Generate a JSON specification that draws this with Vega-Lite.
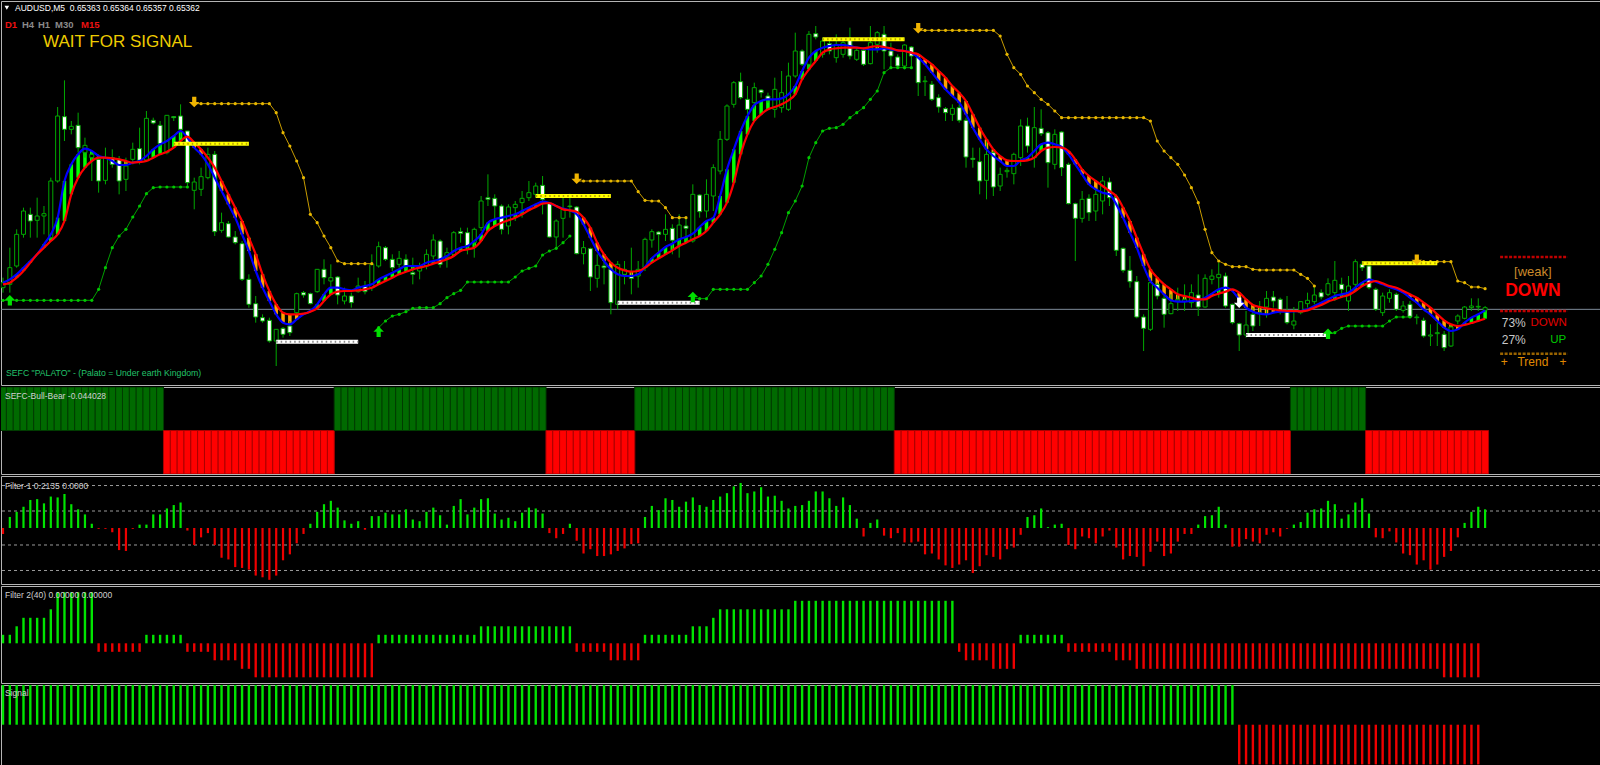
{
"$schema":"https://vega.github.io/schema/vega-lite/v6.json",
"background":"#000000",
"padding":0,
"spacing":2,
"bounds":"flush",
"config":{"view":{"stroke":"#b4b4b4","strokeWidth":1},"text":{"font":"Liberation Sans"}},
"datasets":{
"bars":[
{"i":0,"o":300,"h":330,"l":285,"c":315,"b":315,"r":310,"s":262,"sd":"S","lg":1,"bb":1,"f1":-0.07,"f2":1,"sg":1},
{"i":1,"o":310,"h":420,"l":285,"c":360,"b":325,"r":315,"s":262,"sd":"S","lg":1,"bb":1,"f1":0.13,"f2":1,"sg":1},
{"i":2,"o":365,"h":475,"l":360,"c":460,"b":340,"r":330,"s":262,"sd":"S","lg":1,"bb":1,"f1":0.19,"f2":2,"sg":1},
{"i":3,"o":460,"h":540,"l":450,"c":530,"b":360,"r":350,"s":262,"sd":"S","lg":1,"bb":1,"f1":0.25,"f2":3,"sg":1},
{"i":4,"o":520,"h":540,"l":450,"c":500,"b":380,"r":375,"s":262,"sd":"S","lg":1,"bb":1,"f1":0.33,"f2":3,"sg":1},
{"i":5,"o":502,"h":570,"l":450,"c":515,"b":400,"r":400,"s":262,"sd":"S","lg":1,"bb":1,"f1":0.34,"f2":3,"sg":1},
{"i":6,"o":515,"h":545,"l":460,"c":522,"b":430,"r":420,"s":262,"sd":"S","lg":1,"bb":1,"f1":0.29,"f2":3,"sg":1},
{"i":7,"o":450,"h":630,"l":445,"c":620,"b":460,"r":440,"s":262,"sd":"S","lg":1,"bb":1,"f1":0.37,"f2":4,"sg":1},
{"i":8,"o":620,"h":842,"l":615,"c":815,"b":510,"r":460,"s":262,"sd":"S","lg":1,"bb":1,"f1":0.36,"f2":6,"sg":1},
{"i":9,"o":813,"h":922,"l":740,"c":775,"b":620,"r":500,"s":262,"sd":"S","lg":1,"bb":1,"f1":0.40,"f2":6,"sg":1},
{"i":10,"o":775,"h":800,"l":760,"c":784,"b":670,"r":580,"s":262,"sd":"S","lg":1,"bb":1,"f1":0.28,"f2":6,"sg":1},
{"i":11,"o":787,"h":825,"l":705,"c":720,"b":700,"r":630,"s":262,"sd":"S","lg":1,"bb":1,"f1":0.22,"f2":6,"sg":1},
{"i":12,"o":705,"h":750,"l":690,"c":727,"b":717,"r":660,"s":262,"sd":"S","lg":1,"bb":1,"f1":0.16,"f2":6,"sg":1},
{"i":13,"o":690,"h":705,"l":620,"c":700,"b":710,"r":680,"s":262,"sd":"S","lg":1,"bb":1,"f1":0.05,"f2":6,"sg":1},
{"i":14,"o":685,"h":700,"l":585,"c":620,"b":695,"r":690,"s":295,"sd":"S","lg":1,"bb":1,"f1":-0.01,"f2":-1,"sg":1},
{"i":15,"o":622,"h":720,"l":610,"c":690,"b":690,"r":690,"s":360,"sd":"S","lg":1,"bb":1,"f1":-0.01,"f2":-1,"sg":1},
{"i":16,"o":690,"h":715,"l":660,"c":670,"b":680,"r":688,"s":420,"sd":"S","lg":1,"bb":1,"f1":-0.05,"f2":-1,"sg":1},
{"i":17,"o":685,"h":695,"l":580,"c":620,"b":668,"r":685,"s":455,"sd":"S","lg":1,"bb":1,"f1":-0.26,"f2":-1,"sg":1},
{"i":18,"o":625,"h":690,"l":590,"c":665,"b":668,"r":680,"s":475,"sd":"S","lg":1,"bb":1,"f1":-0.27,"f2":-1,"sg":1},
{"i":19,"o":685,"h":735,"l":670,"c":715,"b":675,"r":675,"s":512,"sd":"S","lg":1,"bb":1,"f1":-0.01,"f2":-1,"sg":1},
{"i":20,"o":717,"h":780,"l":670,"c":682,"b":680,"r":677,"s":545,"sd":"S","lg":1,"bb":1,"f1":0.04,"f2":-1,"sg":1},
{"i":21,"o":683,"h":830,"l":680,"c":808,"b":695,"r":680,"s":582,"sd":"S","lg":1,"bb":1,"f1":0.04,"f2":1,"sg":1},
{"i":22,"o":802,"h":810,"l":790,"c":794,"b":715,"r":690,"s":600,"sd":"S","lg":1,"bb":1,"f1":0.16,"f2":1,"sg":1},
{"i":23,"o":787,"h":800,"l":720,"c":732,"b":730,"r":700,"s":602,"sd":"S","lg":1,"bb":1,"f1":0.16,"f2":1,"sg":1},
{"i":24,"o":705,"h":817,"l":700,"c":817,"b":740,"r":708,"s":602,"sd":"S","lg":1,"bb":-1,"f1":0.23,"f2":1,"sg":1},
{"i":25,"o":813,"h":815,"l":800,"c":810,"b":755,"r":720,"s":602,"sd":"S","lg":1,"bb":-1,"f1":0.27,"f2":1,"sg":1},
{"i":26,"o":815,"h":850,"l":750,"c":775,"b":770,"r":740,"s":602,"sd":"S","lg":1,"bb":-1,"f1":0.30,"f2":1,"sg":1},
{"i":27,"o":770,"h":770,"l":600,"c":615,"b":750,"r":753,"s":602,"sd":"S","lg":1,"bb":-1,"f1":-0.03,"f2":-1,"sg":1},
{"i":28,"o":592,"h":630,"l":535,"c":617,"b":720,"r":735,"s":852,"sd":"R","lg":2,"bb":-1,"f1":-0.20,"f2":-1,"sg":1},
{"i":29,"o":595,"h":660,"l":575,"c":633,"b":700,"r":715,"s":852,"sd":"R","lg":2,"bb":-1,"f1":-0.11,"f2":-1,"sg":1},
{"i":30,"o":630,"h":720,"l":625,"c":700,"b":670,"r":690,"s":852,"sd":"R","lg":2,"bb":-1,"f1":-0.06,"f2":-1,"sg":1},
{"i":31,"o":700,"h":710,"l":455,"c":468,"b":630,"r":660,"s":852,"sd":"R","lg":2,"bb":-1,"f1":-0.20,"f2":-2,"sg":1},
{"i":32,"o":472,"h":525,"l":465,"c":495,"b":590,"r":620,"s":852,"sd":"R","lg":2,"bb":-1,"f1":-0.35,"f2":-2,"sg":1},
{"i":33,"o":492,"h":500,"l":450,"c":452,"b":550,"r":580,"s":852,"sd":"R","lg":2,"bb":-1,"f1":-0.37,"f2":-2,"sg":1},
{"i":34,"o":452,"h":470,"l":430,"c":435,"b":510,"r":540,"s":852,"sd":"R","lg":2,"bb":-1,"f1":-0.46,"f2":-2,"sg":1},
{"i":35,"o":432,"h":440,"l":320,"c":325,"b":460,"r":500,"s":852,"sd":"R","lg":2,"bb":-1,"f1":-0.47,"f2":-3,"sg":1},
{"i":36,"o":325,"h":340,"l":240,"c":250,"b":410,"r":450,"s":852,"sd":"R","lg":2,"bb":-1,"f1":-0.49,"f2":-3,"sg":1},
{"i":37,"o":252,"h":275,"l":195,"c":212,"b":350,"r":400,"s":852,"sd":"R","lg":2,"bb":-1,"f1":-0.56,"f2":-4,"sg":1},
{"i":38,"o":210,"h":220,"l":195,"c":200,"b":300,"r":340,"s":852,"sd":"R","lg":2,"bb":-1,"f1":-0.58,"f2":-4,"sg":1},
{"i":39,"o":202,"h":210,"l":135,"c":140,"b":260,"r":290,"s":852,"sd":"R","lg":2,"bb":-1,"f1":-0.61,"f2":-4,"sg":1},
{"i":40,"o":140,"h":175,"l":65,"c":175,"b":220,"r":250,"s":825,"sd":"R","lg":2,"bb":-1,"f1":-0.56,"f2":-4,"sg":1},
{"i":41,"o":178,"h":182,"l":150,"c":160,"b":195,"r":225,"s":765,"sd":"R","lg":2,"bb":-1,"f1":-0.38,"f2":-4,"sg":1},
{"i":42,"o":185,"h":200,"l":155,"c":165,"b":190,"r":220,"s":725,"sd":"R","lg":2,"bb":-1,"f1":-0.31,"f2":-4,"sg":1},
{"i":43,"o":225,"h":285,"l":220,"c":282,"b":205,"r":220,"s":680,"sd":"R","lg":2,"bb":-1,"f1":-0.18,"f2":-4,"sg":1},
{"i":44,"o":285,"h":290,"l":270,"c":278,"b":220,"r":222,"s":630,"sd":"R","lg":2,"bb":-1,"f1":-0.07,"f2":-4,"sg":1},
{"i":45,"o":282,"h":285,"l":250,"c":252,"b":230,"r":228,"s":520,"sd":"R","lg":2,"bb":-1,"f1":0.05,"f2":-4,"sg":1},
{"i":46,"o":288,"h":355,"l":285,"c":355,"b":250,"r":238,"s":495,"sd":"R","lg":2,"bb":-1,"f1":0.19,"f2":-4,"sg":1},
{"i":47,"o":355,"h":385,"l":310,"c":330,"b":280,"r":260,"s":455,"sd":"R","lg":2,"bb":-1,"f1":0.28,"f2":-4,"sg":1},
{"i":48,"o":320,"h":370,"l":300,"c":330,"b":300,"r":280,"s":420,"sd":"R","lg":2,"bb":-1,"f1":0.32,"f2":-4,"sg":1},
{"i":49,"o":332,"h":335,"l":250,"c":278,"b":300,"r":288,"s":380,"sd":"R","lg":2,"bb":1,"f1":0.24,"f2":-4,"sg":1},
{"i":50,"o":260,"h":300,"l":250,"c":275,"b":295,"r":290,"s":372,"sd":"R","lg":2,"bb":1,"f1":0.09,"f2":-4,"sg":1},
{"i":51,"o":275,"h":285,"l":240,"c":255,"b":292,"r":290,"s":372,"sd":"R","lg":2,"bb":1,"f1":0.05,"f2":-4,"sg":1},
{"i":52,"o":288,"h":330,"l":285,"c":305,"b":300,"r":292,"s":372,"sd":"R","lg":2,"bb":1,"f1":0.08,"f2":-4,"sg":1},
{"i":53,"o":305,"h":320,"l":280,"c":288,"b":305,"r":295,"s":372,"sd":"R","lg":2,"bb":1,"f1":-0.02,"f2":-4,"sg":1},
{"i":54,"o":300,"h":400,"l":290,"c":370,"b":310,"r":300,"s":372,"sd":"R","lg":2,"bb":1,"f1":0.14,"f2":-4,"sg":1},
{"i":55,"o":365,"h":438,"l":360,"c":423,"b":325,"r":310,"s":180,"sd":"S","lg":3,"bb":1,"f1":0.14,"f2":1,"sg":1},
{"i":56,"o":420,"h":425,"l":380,"c":385,"b":335,"r":320,"s":200,"sd":"S","lg":3,"bb":1,"f1":0.18,"f2":1,"sg":1},
{"i":57,"o":385,"h":400,"l":350,"c":360,"b":345,"r":330,"s":215,"sd":"S","lg":3,"bb":1,"f1":0.16,"f2":1,"sg":1},
{"i":58,"o":370,"h":410,"l":360,"c":388,"b":355,"r":340,"s":220,"sd":"S","lg":3,"bb":1,"f1":0.16,"f2":1,"sg":1},
{"i":59,"o":385,"h":400,"l":355,"c":365,"b":365,"r":348,"s":228,"sd":"S","lg":3,"bb":1,"f1":0.22,"f2":1,"sg":1},
{"i":60,"o":345,"h":390,"l":310,"c":340,"b":365,"r":355,"s":238,"sd":"S","lg":3,"bb":1,"f1":0.10,"f2":1,"sg":1},
{"i":61,"o":350,"h":375,"l":325,"c":360,"b":365,"r":360,"s":240,"sd":"S","lg":3,"bb":1,"f1":0.08,"f2":1,"sg":1},
{"i":62,"o":365,"h":415,"l":355,"c":400,"b":375,"r":365,"s":240,"sd":"S","lg":3,"bb":1,"f1":0.19,"f2":1,"sg":1},
{"i":63,"o":395,"h":460,"l":385,"c":443,"b":380,"r":372,"s":240,"sd":"S","lg":3,"bb":1,"f1":0.24,"f2":1,"sg":1},
{"i":64,"o":440,"h":445,"l":360,"c":370,"b":385,"r":378,"s":252,"sd":"S","lg":3,"bb":1,"f1":0.15,"f2":1,"sg":1},
{"i":65,"o":390,"h":420,"l":360,"c":405,"b":395,"r":385,"s":270,"sd":"S","lg":3,"bb":1,"f1":0.04,"f2":1,"sg":1},
{"i":66,"o":400,"h":470,"l":395,"c":465,"b":410,"r":395,"s":282,"sd":"S","lg":3,"bb":1,"f1":0.26,"f2":1,"sg":1},
{"i":67,"o":468,"h":480,"l":435,"c":463,"b":420,"r":410,"s":292,"sd":"S","lg":3,"bb":1,"f1":0.34,"f2":1,"sg":1},
{"i":68,"o":465,"h":480,"l":400,"c":425,"b":425,"r":415,"s":317,"sd":"S","lg":3,"bb":1,"f1":0.16,"f2":1,"sg":1},
{"i":69,"o":435,"h":480,"l":390,"c":475,"b":440,"r":420,"s":317,"sd":"S","lg":3,"bb":1,"f1":0.24,"f2":1,"sg":1},
{"i":70,"o":480,"h":575,"l":470,"c":560,"b":460,"r":440,"s":317,"sd":"S","lg":3,"bb":1,"f1":0.34,"f2":2,"sg":1},
{"i":71,"o":570,"h":640,"l":545,"c":565,"b":495,"r":470,"s":317,"sd":"S","lg":3,"bb":1,"f1":0.35,"f2":2,"sg":1},
{"i":72,"o":568,"h":580,"l":505,"c":545,"b":505,"r":485,"s":317,"sd":"S","lg":3,"bb":1,"f1":0.17,"f2":2,"sg":1},
{"i":73,"o":545,"h":550,"l":460,"c":475,"b":510,"r":495,"s":317,"sd":"S","lg":3,"bb":1,"f1":0.10,"f2":2,"sg":1},
{"i":74,"o":485,"h":550,"l":460,"c":542,"b":515,"r":502,"s":317,"sd":"S","lg":3,"bb":1,"f1":0.12,"f2":2,"sg":1},
{"i":75,"o":540,"h":560,"l":500,"c":550,"b":520,"r":510,"s":332,"sd":"S","lg":3,"bb":1,"f1":0.08,"f2":2,"sg":1},
{"i":76,"o":555,"h":590,"l":510,"c":568,"b":530,"r":520,"s":350,"sd":"S","lg":3,"bb":1,"f1":0.18,"f2":2,"sg":1},
{"i":77,"o":570,"h":620,"l":560,"c":585,"b":540,"r":532,"s":358,"sd":"S","lg":3,"bb":1,"f1":0.24,"f2":2,"sg":1},
{"i":78,"o":580,"h":615,"l":570,"c":605,"b":550,"r":542,"s":365,"sd":"S","lg":3,"bb":1,"f1":0.23,"f2":2,"sg":1},
{"i":79,"o":607,"h":635,"l":520,"c":565,"b":558,"r":552,"s":398,"sd":"S","lg":3,"bb":1,"f1":0.17,"f2":2,"sg":1},
{"i":80,"o":552,"h":555,"l":450,"c":452,"b":554,"r":554,"s":410,"sd":"S","lg":3,"bb":-1,"f1":-0.06,"f2":2,"sg":1},
{"i":81,"o":452,"h":505,"l":420,"c":500,"b":545,"r":545,"s":418,"sd":"S","lg":3,"bb":-1,"f1":-0.12,"f2":2,"sg":1},
{"i":82,"o":508,"h":575,"l":450,"c":535,"b":537,"r":535,"s":435,"sd":"S","lg":3,"bb":-1,"f1":-0.07,"f2":2,"sg":1},
{"i":83,"o":545,"h":582,"l":510,"c":543,"b":532,"r":532,"s":455,"sd":"S","lg":3,"bb":-1,"f1":0.05,"f2":2,"sg":1},
{"i":84,"o":542,"h":545,"l":400,"c":402,"b":520,"r":528,"s":620,"sd":"R","lg":4,"bb":-1,"f1":-0.15,"f2":-1,"sg":1},
{"i":85,"o":402,"h":440,"l":370,"c":420,"b":490,"r":510,"s":620,"sd":"R","lg":4,"bb":-1,"f1":-0.30,"f2":-1,"sg":1},
{"i":86,"o":417,"h":420,"l":290,"c":332,"b":450,"r":480,"s":620,"sd":"R","lg":4,"bb":-1,"f1":-0.25,"f2":-1,"sg":1},
{"i":87,"o":328,"h":400,"l":300,"c":367,"b":410,"r":435,"s":620,"sd":"R","lg":4,"bb":-1,"f1":-0.33,"f2":-1,"sg":1},
{"i":88,"o":365,"h":390,"l":310,"c":360,"b":380,"r":400,"s":620,"sd":"R","lg":4,"bb":-1,"f1":-0.33,"f2":-1,"sg":1},
{"i":89,"o":355,"h":360,"l":220,"c":255,"b":355,"r":375,"s":620,"sd":"R","lg":4,"bb":-1,"f1":-0.31,"f2":-2,"sg":1},
{"i":90,"o":250,"h":380,"l":235,"c":370,"b":340,"r":360,"s":620,"sd":"R","lg":4,"bb":-1,"f1":-0.27,"f2":-2,"sg":1},
{"i":91,"o":340,"h":380,"l":310,"c":355,"b":335,"r":352,"s":620,"sd":"R","lg":4,"bb":-1,"f1":-0.24,"f2":-2,"sg":1},
{"i":92,"o":335,"h":420,"l":280,"c":328,"b":335,"r":348,"s":620,"sd":"R","lg":4,"bb":-1,"f1":-0.19,"f2":-2,"sg":1},
{"i":93,"o":335,"h":380,"l":300,"c":355,"b":340,"r":350,"s":588,"sd":"R","lg":4,"bb":1,"f1":-0.18,"f2":-2,"sg":1},
{"i":94,"o":360,"h":450,"l":350,"c":445,"b":362,"r":360,"s":562,"sd":"R","lg":4,"bb":1,"f1":0.13,"f2":1,"sg":1},
{"i":95,"o":443,"h":475,"l":420,"c":468,"b":388,"r":375,"s":560,"sd":"R","lg":4,"bb":1,"f1":0.26,"f2":1,"sg":1},
{"i":96,"o":467,"h":470,"l":400,"c":460,"b":405,"r":388,"s":560,"sd":"R","lg":4,"bb":1,"f1":0.21,"f2":1,"sg":1},
{"i":97,"o":460,"h":520,"l":440,"c":475,"b":422,"r":400,"s":540,"sd":"R","lg":4,"bb":1,"f1":0.35,"f2":1,"sg":1},
{"i":98,"o":478,"h":490,"l":400,"c":442,"b":432,"r":412,"s":510,"sd":"R","lg":4,"bb":1,"f1":0.33,"f2":1,"sg":1},
{"i":99,"o":445,"h":520,"l":390,"c":488,"b":445,"r":425,"s":510,"sd":"R","lg":4,"bb":1,"f1":0.25,"f2":1,"sg":1},
{"i":100,"o":485,"h":510,"l":440,"c":478,"b":452,"r":435,"s":510,"sd":"R","lg":4,"bb":1,"f1":0.31,"f2":1,"sg":1},
{"i":101,"o":440,"h":610,"l":435,"c":580,"b":462,"r":445,"s":270,"sd":"S","lg":5,"bb":1,"f1":0.36,"f2":2,"sg":1},
{"i":102,"o":578,"h":580,"l":510,"c":528,"b":482,"r":455,"s":267,"sd":"S","lg":5,"bb":1,"f1":0.27,"f2":2,"sg":1},
{"i":103,"o":530,"h":625,"l":510,"c":580,"b":500,"r":470,"s":267,"sd":"S","lg":5,"bb":1,"f1":0.25,"f2":2,"sg":1},
{"i":104,"o":575,"h":670,"l":530,"c":660,"b":510,"r":495,"s":295,"sd":"S","lg":5,"bb":1,"f1":0.33,"f2":3,"sg":1},
{"i":105,"o":650,"h":770,"l":640,"c":745,"b":575,"r":520,"s":295,"sd":"S","lg":5,"bb":1,"f1":0.37,"f2":4,"sg":1},
{"i":106,"o":745,"h":850,"l":740,"c":845,"b":655,"r":555,"s":295,"sd":"S","lg":5,"bb":1,"f1":0.41,"f2":4,"sg":1},
{"i":107,"o":850,"h":920,"l":840,"c":915,"b":715,"r":615,"s":295,"sd":"S","lg":5,"bb":1,"f1":0.49,"f2":4,"sg":1},
{"i":108,"o":918,"h":945,"l":865,"c":870,"b":770,"r":700,"s":295,"sd":"S","lg":5,"bb":1,"f1":0.53,"f2":4,"sg":1},
{"i":109,"o":865,"h":905,"l":820,"c":835,"b":815,"r":760,"s":295,"sd":"S","lg":5,"bb":1,"f1":0.41,"f2":4,"sg":1},
{"i":110,"o":855,"h":915,"l":835,"c":900,"b":848,"r":800,"s":315,"sd":"S","lg":5,"bb":1,"f1":0.43,"f2":4,"sg":1},
{"i":111,"o":893,"h":895,"l":870,"c":885,"b":860,"r":820,"s":335,"sd":"S","lg":5,"bb":1,"f1":0.48,"f2":4,"sg":1},
{"i":112,"o":875,"h":885,"l":855,"c":865,"b":865,"r":835,"s":370,"sd":"S","lg":5,"bb":1,"f1":0.37,"f2":4,"sg":1},
{"i":113,"o":835,"h":930,"l":810,"c":895,"b":865,"r":842,"s":415,"sd":"S","lg":5,"bb":1,"f1":0.38,"f2":4,"sg":1},
{"i":114,"o":840,"h":950,"l":825,"c":885,"b":868,"r":850,"s":465,"sd":"S","lg":5,"bb":1,"f1":0.32,"f2":4,"sg":1},
{"i":115,"o":835,"h":975,"l":830,"c":935,"b":880,"r":862,"s":525,"sd":"S","lg":5,"bb":1,"f1":0.23,"f2":4,"sg":1},
{"i":116,"o":935,"h":1065,"l":930,"c":1010,"b":905,"r":880,"s":560,"sd":"S","lg":5,"bb":1,"f1":0.26,"f2":5,"sg":1},
{"i":117,"o":1010,"h":1015,"l":965,"c":970,"b":950,"r":925,"s":605,"sd":"S","lg":5,"bb":1,"f1":0.27,"f2":5,"sg":1},
{"i":118,"o":970,"h":1070,"l":960,"c":1060,"b":990,"r":955,"s":690,"sd":"S","lg":5,"bb":1,"f1":0.32,"f2":5,"sg":1},
{"i":119,"o":1062,"h":1085,"l":1045,"c":1052,"b":1010,"r":980,"s":735,"sd":"S","lg":5,"bb":1,"f1":0.43,"f2":5,"sg":1},
{"i":120,"o":1000,"h":1050,"l":990,"c":1040,"b":1020,"r":1005,"s":770,"sd":"S","lg":5,"bb":1,"f1":0.43,"f2":5,"sg":1},
{"i":121,"o":1032,"h":1045,"l":1000,"c":1010,"b":1025,"r":1015,"s":778,"sd":"S","lg":5,"bb":1,"f1":0.35,"f2":5,"sg":1},
{"i":122,"o":990,"h":1060,"l":975,"c":1030,"b":1028,"r":1018,"s":780,"sd":"S","lg":5,"bb":1,"f1":0.26,"f2":5,"sg":1},
{"i":123,"o":1000,"h":1050,"l":990,"c":1035,"b":1028,"r":1020,"s":790,"sd":"S","lg":5,"bb":1,"f1":0.36,"f2":5,"sg":1},
{"i":124,"o":1045,"h":1080,"l":985,"c":995,"b":1025,"r":1020,"s":810,"sd":"S","lg":5,"bb":1,"f1":0.27,"f2":5,"sg":1},
{"i":125,"o":985,"h":1020,"l":980,"c":1012,"b":1020,"r":1020,"s":825,"sd":"S","lg":5,"bb":1,"f1":0.11,"f2":5,"sg":1},
{"i":126,"o":1012,"h":1015,"l":965,"c":970,"b":1018,"r":1018,"s":840,"sd":"S","lg":5,"bb":1,"f1":-0.10,"f2":5,"sg":1},
{"i":127,"o":972,"h":1085,"l":970,"c":1035,"b":1015,"r":1022,"s":865,"sd":"S","lg":5,"bb":1,"f1":0.06,"f2":5,"sg":1},
{"i":128,"o":1030,"h":1070,"l":1005,"c":1065,"b":1015,"r":1025,"s":890,"sd":"S","lg":5,"bb":1,"f1":0.10,"f2":5,"sg":1},
{"i":129,"o":1060,"h":1085,"l":955,"c":1010,"b":1018,"r":1022,"s":945,"sd":"S","lg":5,"bb":1,"f1":-0.09,"f2":5,"sg":1},
{"i":130,"o":1010,"h":1035,"l":960,"c":995,"b":1015,"r":1018,"s":960,"sd":"S","lg":5,"bb":1,"f1":-0.12,"f2":5,"sg":1},
{"i":131,"o":992,"h":1000,"l":960,"c":965,"b":1012,"r":1012,"s":960,"sd":"S","lg":5,"bb":-1,"f1":-0.06,"f2":5,"sg":1},
{"i":132,"o":965,"h":1030,"l":955,"c":1028,"b":1010,"r":1010,"s":960,"sd":"S","lg":5,"bb":-1,"f1":-0.17,"f2":5,"sg":1},
{"i":133,"o":1022,"h":1025,"l":960,"c":995,"b":1005,"r":1005,"s":960,"sd":"S","lg":5,"bb":-1,"f1":-0.17,"f2":5,"sg":1},
{"i":134,"o":990,"h":1000,"l":875,"c":915,"b":990,"r":1000,"s":1072,"sd":"R","lg":6,"bb":-1,"f1":-0.16,"f2":5,"sg":1},
{"i":135,"o":918,"h":935,"l":875,"c":920,"b":970,"r":985,"s":1072,"sd":"R","lg":6,"bb":-1,"f1":-0.31,"f2":5,"sg":1},
{"i":136,"o":910,"h":920,"l":860,"c":865,"b":945,"r":970,"s":1072,"sd":"R","lg":6,"bb":-1,"f1":-0.30,"f2":5,"sg":1},
{"i":137,"o":870,"h":880,"l":825,"c":842,"b":920,"r":950,"s":1072,"sd":"R","lg":6,"bb":-1,"f1":-0.37,"f2":5,"sg":1},
{"i":138,"o":837,"h":842,"l":800,"c":825,"b":895,"r":930,"s":1072,"sd":"R","lg":6,"bb":-1,"f1":-0.44,"f2":5,"sg":1},
{"i":139,"o":820,"h":850,"l":800,"c":838,"b":875,"r":905,"s":1072,"sd":"R","lg":6,"bb":-1,"f1":-0.47,"f2":5,"sg":1},
{"i":140,"o":840,"h":850,"l":795,"c":802,"b":855,"r":885,"s":1072,"sd":"R","lg":6,"bb":-1,"f1":-0.43,"f2":-1,"sg":1},
{"i":141,"o":802,"h":810,"l":660,"c":692,"b":820,"r":860,"s":1072,"sd":"R","lg":6,"bb":-1,"f1":-0.38,"f2":-2,"sg":1},
{"i":142,"o":688,"h":720,"l":660,"c":685,"b":780,"r":820,"s":1072,"sd":"R","lg":6,"bb":-1,"f1":-0.53,"f2":-2,"sg":1},
{"i":143,"o":678,"h":720,"l":580,"c":620,"b":745,"r":780,"s":1072,"sd":"R","lg":6,"bb":-1,"f1":-0.45,"f2":-2,"sg":1},
{"i":144,"o":622,"h":740,"l":565,"c":700,"b":715,"r":745,"s":1072,"sd":"R","lg":6,"bb":-1,"f1":-0.32,"f2":-2,"sg":1},
{"i":145,"o":705,"h":710,"l":575,"c":602,"b":695,"r":715,"s":1072,"sd":"R","lg":6,"bb":-1,"f1":-0.34,"f2":-3,"sg":1},
{"i":146,"o":605,"h":660,"l":590,"c":640,"b":680,"r":695,"s":1055,"sd":"R","lg":6,"bb":-1,"f1":-0.37,"f2":-3,"sg":1},
{"i":147,"o":648,"h":660,"l":630,"c":652,"b":665,"r":682,"s":1000,"sd":"R","lg":6,"bb":-1,"f1":-0.25,"f2":-3,"sg":1},
{"i":148,"o":642,"h":705,"l":610,"c":700,"b":665,"r":680,"s":960,"sd":"R","lg":6,"bb":-1,"f1":-0.23,"f2":-3,"sg":1},
{"i":149,"o":690,"h":805,"l":665,"c":785,"b":682,"r":680,"s":940,"sd":"R","lg":6,"bb":-1,"f1":-0.08,"f2":1,"sg":1},
{"i":150,"o":785,"h":810,"l":705,"c":725,"b":690,"r":682,"s":905,"sd":"R","lg":6,"bb":-1,"f1":0.13,"f2":1,"sg":1},
{"i":151,"o":690,"h":842,"l":660,"c":780,"b":710,"r":690,"s":885,"sd":"R","lg":6,"bb":-1,"f1":0.15,"f2":1,"sg":1},
{"i":152,"o":778,"h":835,"l":755,"c":762,"b":730,"r":710,"s":865,"sd":"R","lg":6,"bb":-1,"f1":0.23,"f2":1,"sg":1},
{"i":153,"o":765,"h":770,"l":600,"c":675,"b":735,"r":720,"s":850,"sd":"R","lg":6,"bb":-1,"f1":0.01,"f2":1,"sg":1},
{"i":154,"o":670,"h":775,"l":655,"c":760,"b":730,"r":722,"s":830,"sd":"R","lg":6,"bb":-1,"f1":0.04,"f2":1,"sg":1},
{"i":155,"o":767,"h":770,"l":635,"c":660,"b":722,"r":720,"s":810,"sd":"R","lg":6,"bb":-1,"f1":0.05,"f2":1,"sg":1},
{"i":156,"o":670,"h":675,"l":550,"c":552,"b":700,"r":710,"s":810,"sd":"R","lg":6,"bb":-1,"f1":-0.20,"f2":-1,"sg":1},
{"i":157,"o":552,"h":555,"l":380,"c":508,"b":670,"r":685,"s":810,"sd":"R","lg":6,"bb":-1,"f1":-0.25,"f2":-1,"sg":1},
{"i":158,"o":508,"h":590,"l":495,"c":565,"b":640,"r":655,"s":810,"sd":"R","lg":6,"bb":-1,"f1":-0.10,"f2":-1,"sg":1},
{"i":159,"o":568,"h":580,"l":500,"c":525,"b":610,"r":635,"s":810,"sd":"R","lg":6,"bb":-1,"f1":-0.12,"f2":-1,"sg":1},
{"i":160,"o":530,"h":600,"l":500,"c":580,"b":595,"r":620,"s":810,"sd":"R","lg":6,"bb":-1,"f1":-0.18,"f2":-1,"sg":1},
{"i":161,"o":560,"h":635,"l":520,"c":620,"b":585,"r":605,"s":810,"sd":"R","lg":6,"bb":-1,"f1":-0.10,"f2":-1,"sg":1},
{"i":162,"o":617,"h":630,"l":545,"c":570,"b":580,"r":590,"s":810,"sd":"R","lg":6,"bb":-1,"f1":-0.03,"f2":-1,"sg":1},
{"i":163,"o":570,"h":580,"l":395,"c":412,"b":550,"r":575,"s":810,"sd":"R","lg":6,"bb":-1,"f1":-0.23,"f2":-2,"sg":1},
{"i":164,"o":418,"h":420,"l":345,"c":352,"b":510,"r":540,"s":810,"sd":"R","lg":6,"bb":-1,"f1":-0.37,"f2":-2,"sg":1},
{"i":165,"o":352,"h":395,"l":300,"c":318,"b":465,"r":500,"s":810,"sd":"R","lg":6,"bb":-1,"f1":-0.33,"f2":-2,"sg":1},
{"i":166,"o":318,"h":335,"l":208,"c":212,"b":420,"r":450,"s":810,"sd":"R","lg":6,"bb":-1,"f1":-0.34,"f2":-3,"sg":1},
{"i":167,"o":212,"h":220,"l":110,"c":178,"b":365,"r":400,"s":810,"sd":"R","lg":6,"bb":-1,"f1":-0.45,"f2":-3,"sg":1},
{"i":168,"o":175,"h":330,"l":170,"c":315,"b":320,"r":355,"s":800,"sd":"R","lg":6,"bb":-1,"f1":-0.28,"f2":-3,"sg":1},
{"i":169,"o":310,"h":315,"l":265,"c":275,"b":300,"r":330,"s":740,"sd":"R","lg":6,"bb":-1,"f1":-0.16,"f2":-3,"sg":1},
{"i":170,"o":268,"h":280,"l":180,"c":220,"b":280,"r":310,"s":710,"sd":"R","lg":6,"bb":-1,"f1":-0.33,"f2":-3,"sg":1},
{"i":171,"o":222,"h":280,"l":220,"c":252,"b":262,"r":295,"s":690,"sd":"R","lg":6,"bb":-1,"f1":-0.30,"f2":-3,"sg":1},
{"i":172,"o":260,"h":300,"l":230,"c":265,"b":258,"r":280,"s":670,"sd":"R","lg":6,"bb":-1,"f1":-0.16,"f2":-3,"sg":1},
{"i":173,"o":258,"h":310,"l":230,"c":265,"b":258,"r":275,"s":638,"sd":"R","lg":6,"bb":-1,"f1":-0.07,"f2":-3,"sg":1},
{"i":174,"o":255,"h":310,"l":240,"c":285,"b":260,"r":270,"s":600,"sd":"R","lg":6,"bb":-1,"f1":-0.07,"f2":-3,"sg":1},
{"i":175,"o":278,"h":340,"l":215,"c":242,"b":262,"r":265,"s":555,"sd":"R","lg":6,"bb":-1,"f1":0.04,"f2":-3,"sg":1},
{"i":176,"o":242,"h":340,"l":240,"c":328,"b":270,"r":265,"s":475,"sd":"R","lg":6,"bb":-1,"f1":0.14,"f2":-3,"sg":1},
{"i":177,"o":325,"h":355,"l":310,"c":335,"b":282,"r":275,"s":405,"sd":"R","lg":6,"bb":-1,"f1":0.15,"f2":-3,"sg":1},
{"i":178,"o":330,"h":375,"l":270,"c":340,"b":295,"r":282,"s":380,"sd":"R","lg":6,"bb":-1,"f1":0.25,"f2":-3,"sg":1},
{"i":179,"o":335,"h":345,"l":240,"c":245,"b":300,"r":288,"s":370,"sd":"R","lg":6,"bb":-1,"f1":0.04,"f2":-3,"sg":1},
{"i":180,"o":250,"h":252,"l":190,"c":195,"b":290,"r":295,"s":363,"sd":"R","lg":6,"bb":-1,"f1":-0.22,"f2":-3,"sg":1},
{"i":181,"o":192,"h":195,"l":110,"c":158,"b":265,"r":285,"s":363,"sd":"R","lg":6,"bb":-1,"f1":-0.22,"f2":-3,"sg":-1},
{"i":182,"o":158,"h":230,"l":150,"c":188,"b":240,"r":265,"s":363,"sd":"R","lg":6,"bb":-1,"f1":-0.13,"f2":-3,"sg":-1},
{"i":183,"o":220,"h":240,"l":170,"c":185,"b":228,"r":248,"s":355,"sd":"R","lg":6,"bb":-1,"f1":-0.16,"f2":-3,"sg":-1},
{"i":184,"o":222,"h":260,"l":185,"c":225,"b":222,"r":242,"s":353,"sd":"R","lg":6,"bb":-1,"f1":-0.18,"f2":-3,"sg":-1},
{"i":185,"o":242,"h":290,"l":210,"c":268,"b":220,"r":238,"s":353,"sd":"R","lg":6,"bb":-1,"f1":-0.08,"f2":-3,"sg":-1},
{"i":186,"o":272,"h":290,"l":240,"c":260,"b":225,"r":235,"s":353,"sd":"R","lg":6,"bb":-1,"f1":-0.05,"f2":-3,"sg":-1},
{"i":187,"o":265,"h":270,"l":220,"c":228,"b":228,"r":232,"s":353,"sd":"R","lg":6,"bb":-1,"f1":-0.10,"f2":-3,"sg":-1},
{"i":188,"o":228,"h":275,"l":190,"c":195,"b":228,"r":230,"s":353,"sd":"R","lg":6,"bb":-1,"f1":-0.01,"f2":-3,"sg":-1},
{"i":189,"o":188,"h":242,"l":175,"c":200,"b":229,"r":230,"s":353,"sd":"R","lg":6,"bb":1,"f1":0.04,"f2":-3,"sg":-1},
{"i":190,"o":225,"h":260,"l":220,"c":258,"b":230,"r":229,"s":340,"sd":"R","lg":6,"bb":1,"f1":0.07,"f2":-3,"sg":-1},
{"i":191,"o":252,"h":285,"l":240,"c":262,"b":235,"r":232,"s":328,"sd":"R","lg":6,"bb":1,"f1":0.18,"f2":-3,"sg":-1},
{"i":192,"o":258,"h":305,"l":250,"c":278,"b":245,"r":240,"s":305,"sd":"R","lg":6,"bb":1,"f1":0.22,"f2":-3,"sg":-1},
{"i":193,"o":285,"h":295,"l":265,"c":272,"b":255,"r":248,"s":null,"sd":null,"lg":null,"bb":1,"f1":0.23,"f2":-3,"sg":-1},
{"i":194,"o":280,"h":328,"l":275,"c":312,"b":265,"r":258,"s":162,"sd":"S","lg":7,"bb":1,"f1":0.32,"f2":-3,"sg":-1},
{"i":195,"o":285,"h":380,"l":260,"c":322,"b":275,"r":265,"s":165,"sd":"S","lg":7,"bb":1,"f1":0.28,"f2":-3,"sg":-1},
{"i":196,"o":310,"h":330,"l":270,"c":295,"b":280,"r":272,"s":178,"sd":"S","lg":7,"bb":1,"f1":0.11,"f2":-3,"sg":-1},
{"i":197,"o":260,"h":335,"l":230,"c":305,"b":285,"r":278,"s":185,"sd":"S","lg":7,"bb":1,"f1":0.16,"f2":-3,"sg":-1},
{"i":198,"o":310,"h":385,"l":300,"c":378,"b":300,"r":290,"s":185,"sd":"S","lg":7,"bb":1,"f1":0.30,"f2":-3,"sg":-1},
{"i":199,"o":370,"h":380,"l":350,"c":360,"b":315,"r":305,"s":185,"sd":"S","lg":7,"bb":1,"f1":0.35,"f2":-3,"sg":-1},
{"i":200,"o":365,"h":370,"l":295,"c":300,"b":325,"r":315,"s":185,"sd":"S","lg":7,"bb":-1,"f1":0.17,"f2":-3,"sg":-1},
{"i":201,"o":295,"h":300,"l":230,"c":235,"b":318,"r":320,"s":185,"sd":"S","lg":7,"bb":-1,"f1":-0.11,"f2":-3,"sg":-1},
{"i":202,"o":225,"h":285,"l":215,"c":275,"b":310,"r":313,"s":185,"sd":"S","lg":7,"bb":-1,"f1":-0.12,"f2":-3,"sg":-1},
{"i":203,"o":268,"h":295,"l":255,"c":285,"b":302,"r":305,"s":200,"sd":"S","lg":7,"bb":-1,"f1":-0.04,"f2":-3,"sg":-1},
{"i":204,"o":280,"h":285,"l":230,"c":235,"b":295,"r":300,"s":212,"sd":"S","lg":7,"bb":-1,"f1":-0.17,"f2":-3,"sg":-1},
{"i":205,"o":232,"h":260,"l":225,"c":245,"b":285,"r":290,"s":212,"sd":"S","lg":7,"bb":-1,"f1":-0.30,"f2":-3,"sg":-1},
{"i":206,"o":250,"h":260,"l":210,"c":212,"b":270,"r":280,"s":212,"sd":"S","lg":7,"bb":-1,"f1":-0.32,"f2":-3,"sg":-1},
{"i":207,"o":210,"h":220,"l":190,"c":212,"b":255,"r":270,"s":378,"sd":"R","lg":8,"bb":-1,"f1":-0.43,"f2":-3,"sg":-1},
{"i":208,"o":202,"h":210,"l":150,"c":155,"b":235,"r":255,"s":378,"sd":"R","lg":8,"bb":-1,"f1":-0.38,"f2":-3,"sg":-1},
{"i":209,"o":155,"h":190,"l":125,"c":158,"b":220,"r":240,"s":378,"sd":"R","lg":8,"bb":-1,"f1":-0.49,"f2":-3,"sg":-1},
{"i":210,"o":162,"h":195,"l":125,"c":165,"b":200,"r":220,"s":378,"sd":"R","lg":8,"bb":-1,"f1":-0.43,"f2":-3,"sg":-1},
{"i":211,"o":160,"h":170,"l":110,"c":120,"b":180,"r":202,"s":378,"sd":"R","lg":8,"bb":-1,"f1":-0.34,"f2":-4,"sg":-1},
{"i":212,"o":125,"h":190,"l":122,"c":182,"b":170,"r":190,"s":378,"sd":"R","lg":8,"bb":-1,"f1":-0.27,"f2":-4,"sg":-1},
{"i":213,"o":200,"h":220,"l":190,"c":215,"b":175,"r":185,"s":320,"sd":"R","lg":8,"bb":-1,"f1":-0.11,"f2":-4,"sg":-1},
{"i":214,"o":208,"h":245,"l":205,"c":242,"b":195,"r":188,"s":315,"sd":"R","lg":8,"bb":-1,"f1":0.06,"f2":-4,"sg":-1},
{"i":215,"o":240,"h":268,"l":230,"c":245,"b":210,"r":194,"s":302,"sd":"R","lg":8,"bb":-1,"f1":0.19,"f2":-4,"sg":-1},
{"i":216,"o":242,"h":268,"l":230,"c":244,"b":220,"r":200,"s":302,"sd":"R","lg":8,"bb":-1,"f1":0.25,"f2":-4,"sg":-1},
{"i":217,"o":232,"h":245,"l":225,"c":240,"b":232,"r":207,"s":297,"sd":"R","lg":8,"bb":-1,"f1":0.22,"f2":null,"sg":null}
],
"levels":[
{"a":25,"z":36,"p":732,"k":"resistance"},{"a":78,"z":89,"p":575,"k":"resistance"},{"a":120,"z":132,"p":1045,"k":"resistance"},{"a":199,"z":210,"p":373,"k":"resistance"},
{"a":40,"z":52,"p":138,"k":"support"},{"a":90,"z":102,"p":255,"k":"support"},{"a":182,"z":194,"p":158,"k":"support"}
],
"arrows":[
{"i":1,"p":262,"k":"buy"},{"i":28,"p":857,"k":"sell"},{"i":55,"p":168,"k":"buy"},{"i":84,"p":627,"k":"sell"},{"i":101,"p":272,"k":"buy"},{"i":134,"p":1078,"k":"sell"},{"i":181,"p":255,"k":"exit"},{"i":194,"p":162,"k":"buy"},{"i":207,"p":384,"k":"sell"}
],
"frames":[
{"a":219.2,"z":229.1,"p":392,"k":"state"},{"a":219.2,"z":229.1,"p":230,"k":"state"},{"a":219.2,"z":229.1,"p":102,"k":"trend"}
],
"notes":[
{"x":1.76,"y":1140,"t":"AUDUSD,M5\u00a0 0.65363 0.65364 0.65357 0.65362","k":"hdr"},
{"x":0.29,"y":1088,"t":"D1","k":"tf","on":"yes"},
{"x":2.78,"y":1088,"t":"H4","k":"tf","on":"no"},
{"x":5.12,"y":1088,"t":"H1","k":"tf","on":"no"},
{"x":7.61,"y":1088,"t":"M30","k":"tf","on":"no"},
{"x":11.42,"y":1088,"t":"M15","k":"tf","on":"yes"},
{"x":5.86,"y":1037,"t":"WAIT FOR SIGNAL","k":"wait"},
{"x":0.44,"y":45,"t":"SEFC \"PALATO\" - (Palato = Under earth Kingdom)","k":"name"},
{"x":224.0,"y":347,"t":"[weak]","k":"strength"},
{"x":224.0,"y":290,"t":"DOWN","k":"bias"},
{"x":221.2,"y":194,"t":"73%","k":"pct"},
{"x":221.2,"y":143,"t":"27%","k":"pct"},
{"x":226.3,"y":194,"t":"DOWN","k":"dn"},
{"x":227.7,"y":143,"t":"UP","k":"up"},
{"x":219.8,"y":77,"t":"+","k":"trend"},
{"x":224.0,"y":77,"t":"Trend","k":"trend"},
{"x":228.4,"y":77,"t":"+","k":"trend"}
]
},
"vconcat":[
{"width":1600,"height":384,
"resolve":{"scale":{"color":"independent","shape":"independent"}},
"layer":[
{"data":{"values":[{"p":235}]},"mark":{"type":"rule","color":"#7d8b99","strokeWidth":1},
 "encoding":{"y":{"field":"p","type":"quantitative","scale":{"domain":[8,1160],"nice":false,"zero":false},"axis":null}}},
{"data":{"name":"bars"},"mark":{"type":"bar","width":3.5,"clip":true},
 "encoding":{"x":{"field":"i","type":"quantitative","scale":{"domain":[-0.293,233.97],"nice":false,"zero":false,"padding":0},"axis":null},
 "y":{"field":"b","type":"quantitative","scale":{"domain":[8,1160],"nice":false,"zero":false},"axis":null},"y2":{"field":"r"},
 "color":{"condition":{"test":"datum.b >= datum.r","value":"#00ff00"},"value":"#ffa200"}}},
{"data":{"name":"bars"},"mark":{"type":"rule","color":"#00a800","strokeWidth":1},
 "encoding":{"x":{"field":"i","type":"quantitative","scale":{"domain":[-0.293,233.97],"nice":false,"zero":false,"padding":0},"axis":null},
 "y":{"field":"l","type":"quantitative","scale":{"domain":[8,1160],"nice":false,"zero":false},"axis":null},"y2":{"field":"h"}}},
{"data":{"name":"bars"},"mark":{"type":"bar","width":4,"stroke":"#00a800","strokeWidth":1,"clip":true},
 "encoding":{"x":{"field":"i","type":"quantitative","scale":{"domain":[-0.293,233.97],"nice":false,"zero":false,"padding":0},"axis":null},
 "y":{"field":"o","type":"quantitative","scale":{"domain":[8,1160],"nice":false,"zero":false},"axis":null},"y2":{"field":"c"},
 "fill":{"condition":{"test":"datum.c >= datum.o","value":"#000000"},"value":"#ffffff"}}},
{"data":{"name":"bars"},"mark":{"type":"line","color":"#0000ff","strokeWidth":2.2,"interpolate":"monotone","clip":true},
 "encoding":{"x":{"field":"i","type":"quantitative","scale":{"domain":[-0.293,233.97],"nice":false,"zero":false,"padding":0},"axis":null},
 "y":{"field":"b","type":"quantitative","scale":{"domain":[8,1160],"nice":false,"zero":false},"axis":null}}},
{"data":{"name":"bars"},"mark":{"type":"line","color":"#ff0000","strokeWidth":2.2,"interpolate":"monotone","clip":true},
 "encoding":{"x":{"field":"i","type":"quantitative","scale":{"domain":[-0.293,233.97],"nice":false,"zero":false,"padding":0},"axis":null},
 "y":{"field":"r","type":"quantitative","scale":{"domain":[8,1160],"nice":false,"zero":false},"axis":null}}},
{"data":{"name":"bars"},"transform":[{"filter":"isValid(datum.s)"}],"mark":{"type":"line","strokeWidth":1},
 "encoding":{"x":{"field":"i","type":"quantitative","scale":{"domain":[-0.293,233.97],"nice":false,"zero":false,"padding":0},"axis":null},
 "y":{"field":"s","type":"quantitative","scale":{"domain":[8,1160],"nice":false,"zero":false},"axis":null},
 "detail":{"field":"lg","type":"nominal"},
 "color":{"field":"sd","type":"nominal","scale":{"domain":["R","S"],"range":["#c89c00","#00a000"]},"legend":null}}},
{"data":{"name":"bars"},"transform":[{"filter":"isValid(datum.s)"}],"mark":{"type":"circle","size":10,"opacity":1},
 "encoding":{"x":{"field":"i","type":"quantitative","scale":{"domain":[-0.293,233.97],"nice":false,"zero":false,"padding":0},"axis":null},
 "y":{"field":"s","type":"quantitative","scale":{"domain":[8,1160],"nice":false,"zero":false},"axis":null},
 "color":{"field":"sd","type":"nominal","scale":{"domain":["R","S"],"range":["#e8b800","#00c800"]},"legend":null}}},
{"data":{"name":"levels"},"mark":{"type":"rule","strokeWidth":4},
 "encoding":{"x":{"field":"a","type":"quantitative","scale":{"domain":[-0.293,233.97],"nice":false,"zero":false,"padding":0},"axis":null},"x2":{"field":"z"},
 "y":{"field":"p","type":"quantitative","scale":{"domain":[8,1160],"nice":false,"zero":false},"axis":null},
 "color":{"field":"k","type":"nominal","scale":{"domain":["resistance","support"],"range":["#ffff00","#ffffff"]},"legend":null}}},
{"data":{"name":"levels"},"mark":{"type":"rule","strokeWidth":2,"strokeDash":[1.5,3]},
 "encoding":{"x":{"field":"a","type":"quantitative","scale":{"domain":[-0.293,233.97],"nice":false,"zero":false,"padding":0},"axis":null},"x2":{"field":"z"},
 "y":{"field":"p","type":"quantitative","scale":{"domain":[8,1160],"nice":false,"zero":false},"axis":null},
 "color":{"field":"k","type":"nominal","scale":{"domain":["resistance","support"],"range":["#b8a000","#8a8a8a"]},"legend":null}}},
{"data":{"name":"arrows"},"mark":{"type":"point","filled":true,"size":110,"opacity":1},
 "encoding":{"x":{"field":"i","type":"quantitative","scale":{"domain":[-0.293,233.97],"nice":false,"zero":false,"padding":0},"axis":null},
 "y":{"field":"p","type":"quantitative","scale":{"domain":[8,1160],"nice":false,"zero":false},"axis":null},
 "shape":{"field":"k","type":"nominal","scale":{"domain":["buy","sell","exit"],"range":["M -0.4 1 L 0.4 1 L 0.4 0 L 1 0 L 0 -1 L -1 0 L -0.4 0 Z","M -0.4 -1 L 0.4 -1 L 0.4 0 L 1 0 L 0 1 L -1 0 L -0.4 0 Z","M -0.4 -1 L 0.4 -1 L 0.4 0 L 1 0 L 0 1 L -1 0 L -0.4 0 Z"]},"legend":null},
 "color":{"field":"k","type":"nominal","scale":{"domain":["buy","sell","exit"],"range":["#00e000","#f0b400","#ffffff"]},"legend":null}}},
{"data":{"name":"frames"},"mark":{"type":"rule","strokeWidth":2.5,"strokeDash":[3,1.5]},
 "encoding":{"x":{"field":"a","type":"quantitative","scale":{"domain":[-0.293,233.97],"nice":false,"zero":false,"padding":0},"axis":null},"x2":{"field":"z"},
 "y":{"field":"p","type":"quantitative","scale":{"domain":[8,1160],"nice":false,"zero":false},"axis":null},
 "color":{"field":"k","type":"nominal","scale":{"domain":["state","trend"],"range":["#c00000","#9a6400"]},"legend":null}}},
{"data":{"values":[{"x":0.56,"y":1140}]},"mark":{"type":"point","shape":"triangle-down","filled":true,"size":22,"color":"#ffffff","opacity":1},
 "encoding":{"x":{"field":"x","type":"quantitative","scale":{"domain":[-0.293,233.97],"nice":false,"zero":false,"padding":0},"axis":null},
 "y":{"field":"y","type":"quantitative","scale":{"domain":[8,1160],"nice":false,"zero":false},"axis":null}}},
{"data":{"name":"notes"},"transform":[{"filter":"datum.k=='hdr'"}],"mark":{"type":"text","align":"left","baseline":"middle","fontSize":8.5,"color":"#ffffff"},
 "encoding":{"x":{"field":"x","type":"quantitative","scale":{"domain":[-0.293,233.97],"nice":false,"zero":false,"padding":0},"axis":null},
 "y":{"field":"y","type":"quantitative","scale":{"domain":[8,1160],"nice":false,"zero":false},"axis":null},"text":{"field":"t"}}},
{"data":{"name":"notes"},"transform":[{"filter":"datum.k=='tf'"}],"mark":{"type":"text","align":"left","baseline":"middle","fontSize":9.5,"fontWeight":"bold"},
 "encoding":{"x":{"field":"x","type":"quantitative","scale":{"domain":[-0.293,233.97],"nice":false,"zero":false,"padding":0},"axis":null},
 "y":{"field":"y","type":"quantitative","scale":{"domain":[8,1160],"nice":false,"zero":false},"axis":null},"text":{"field":"t"},
 "color":{"field":"on","type":"nominal","scale":{"domain":["yes","no"],"range":["#ee1111","#8a8a8a"]},"legend":null}}},
{"data":{"name":"notes"},"transform":[{"filter":"datum.k=='wait'"}],"mark":{"type":"text","align":"left","baseline":"middle","fontSize":17,"color":"#eecc00"},
 "encoding":{"x":{"field":"x","type":"quantitative","scale":{"domain":[-0.293,233.97],"nice":false,"zero":false,"padding":0},"axis":null},
 "y":{"field":"y","type":"quantitative","scale":{"domain":[8,1160],"nice":false,"zero":false},"axis":null},"text":{"field":"t"}}},
{"data":{"name":"notes"},"transform":[{"filter":"datum.k=='name'"}],"mark":{"type":"text","align":"left","baseline":"middle","fontSize":8.7,"color":"#22c26a"},
 "encoding":{"x":{"field":"x","type":"quantitative","scale":{"domain":[-0.293,233.97],"nice":false,"zero":false,"padding":0},"axis":null},
 "y":{"field":"y","type":"quantitative","scale":{"domain":[8,1160],"nice":false,"zero":false},"axis":null},"text":{"field":"t"}}},
{"data":{"name":"notes"},"transform":[{"filter":"datum.k=='strength'"}],"mark":{"type":"text","align":"center","baseline":"middle","fontSize":13,"color":"#cc8a2a"},
 "encoding":{"x":{"field":"x","type":"quantitative","scale":{"domain":[-0.293,233.97],"nice":false,"zero":false,"padding":0},"axis":null},
 "y":{"field":"y","type":"quantitative","scale":{"domain":[8,1160],"nice":false,"zero":false},"axis":null},"text":{"field":"t"}}},
{"data":{"name":"notes"},"transform":[{"filter":"datum.k=='bias'"}],"mark":{"type":"text","align":"center","baseline":"middle","fontSize":17.5,"fontWeight":"bold","color":"#ff0000"},
 "encoding":{"x":{"field":"x","type":"quantitative","scale":{"domain":[-0.293,233.97],"nice":false,"zero":false,"padding":0},"axis":null},
 "y":{"field":"y","type":"quantitative","scale":{"domain":[8,1160],"nice":false,"zero":false},"axis":null},"text":{"field":"t"}}},
{"data":{"name":"notes"},"transform":[{"filter":"datum.k=='pct'"}],"mark":{"type":"text","align":"center","baseline":"middle","fontSize":12,"color":"#c8c8c8"},
 "encoding":{"x":{"field":"x","type":"quantitative","scale":{"domain":[-0.293,233.97],"nice":false,"zero":false,"padding":0},"axis":null},
 "y":{"field":"y","type":"quantitative","scale":{"domain":[8,1160],"nice":false,"zero":false},"axis":null},"text":{"field":"t"}}},
{"data":{"name":"notes"},"transform":[{"filter":"datum.k=='dn'"}],"mark":{"type":"text","align":"center","baseline":"middle","fontSize":11.5,"color":"#e00000"},
 "encoding":{"x":{"field":"x","type":"quantitative","scale":{"domain":[-0.293,233.97],"nice":false,"zero":false,"padding":0},"axis":null},
 "y":{"field":"y","type":"quantitative","scale":{"domain":[8,1160],"nice":false,"zero":false},"axis":null},"text":{"field":"t"}}},
{"data":{"name":"notes"},"transform":[{"filter":"datum.k=='up'"}],"mark":{"type":"text","align":"center","baseline":"middle","fontSize":11.5,"color":"#00c800"},
 "encoding":{"x":{"field":"x","type":"quantitative","scale":{"domain":[-0.293,233.97],"nice":false,"zero":false,"padding":0},"axis":null},
 "y":{"field":"y","type":"quantitative","scale":{"domain":[8,1160],"nice":false,"zero":false},"axis":null},"text":{"field":"t"}}},
{"data":{"name":"notes"},"transform":[{"filter":"datum.k=='trend'"}],"mark":{"type":"text","align":"center","baseline":"middle","fontSize":12,"color":"#e08a00"},
 "encoding":{"x":{"field":"x","type":"quantitative","scale":{"domain":[-0.293,233.97],"nice":false,"zero":false,"padding":0},"axis":null},
 "y":{"field":"y","type":"quantitative","scale":{"domain":[8,1160],"nice":false,"zero":false},"axis":null},"text":{"field":"t"}}}
]},
{"width":1600,"height":87,
"layer":[
{"data":{"name":"bars"},"mark":{"type":"bar","width":6.9,"strokeWidth":1,"clip":true},
 "encoding":{"x":{"field":"i","type":"quantitative","scale":{"domain":[-0.293,233.97],"nice":false,"zero":false,"padding":0},"axis":null},
 "y":{"field":"bb","type":"quantitative","scale":{"domain":[-1,1],"nice":false,"zero":false},"axis":null},"y2":{"datum":0},
 "fill":{"condition":{"test":"datum.bb > 0","value":"#006a00"},"value":"#ff0000"},
 "stroke":{"condition":{"test":"datum.bb > 0","value":"#003c00"},"value":"#a80000"}}},
{"data":{"values":[{"x":0.29,"y":0.79,"t":"SEFC-Bull-Bear -0.044028"}]},"mark":{"type":"text","align":"left","baseline":"middle","fontSize":8.5,"color":"#d0d0d0"},
 "encoding":{"x":{"field":"x","type":"quantitative","scale":{"domain":[-0.293,233.97],"nice":false,"zero":false,"padding":0},"axis":null},
 "y":{"field":"y","type":"quantitative","scale":{"domain":[-1,1],"nice":false,"zero":false},"axis":null},"text":{"field":"t"}}}
]},
{"width":1600,"height":108,
"layer":[
{"data":{"values":[{"lv":0.5},{"lv":0.2},{"lv":-0.2},{"lv":-0.5}]},"mark":{"type":"rule","color":"#9a9a9a","strokeWidth":1,"strokeDash":[3,3]},
 "encoding":{"y":{"field":"lv","type":"quantitative","scale":{"domain":[-0.659,0.612],"nice":false,"zero":false},"axis":null}}},
{"data":{"name":"bars"},"mark":{"type":"bar","width":2.2,"clip":true},
 "encoding":{"x":{"field":"i","type":"quantitative","scale":{"domain":[-0.293,233.97],"nice":false,"zero":false,"padding":0},"axis":null},
 "y":{"field":"f1","type":"quantitative","scale":{"domain":[-0.659,0.612],"nice":false,"zero":false},"axis":null},"y2":{"datum":0},
 "color":{"condition":{"test":"datum.f1 >= 0","value":"#00e400"},"value":"#ee0000"}}},
{"data":{"values":[{"x":0.29,"y":0.5,"t":"Filter-1 0.2135 0.0000"}]},"mark":{"type":"text","align":"left","baseline":"middle","fontSize":8.5,"color":"#d0d0d0"},
 "encoding":{"x":{"field":"x","type":"quantitative","scale":{"domain":[-0.293,233.97],"nice":false,"zero":false,"padding":0},"axis":null},
 "y":{"field":"y","type":"quantitative","scale":{"domain":[-0.659,0.612],"nice":false,"zero":false},"axis":null},"text":{"field":"t"}}}
]},
{"width":1600,"height":97,
"layer":[
{"data":{"name":"bars"},"transform":[{"filter":"isValid(datum.f2)"}],"mark":{"type":"bar","width":2.4,"clip":true},
 "encoding":{"x":{"field":"i","type":"quantitative","scale":{"domain":[-0.293,233.97],"nice":false,"zero":false,"padding":0},"axis":null},
 "y":{"field":"f2","type":"quantitative","scale":{"domain":[-4.67,6.74],"nice":false,"zero":false},"axis":null},"y2":{"datum":0},
 "color":{"condition":{"test":"datum.f2 >= 0","value":"#00e400"},"value":"#ee0000"}}},
{"data":{"values":[{"x":0.29,"y":5.68,"t":"Filter 2(40) 0.00000 0.00000"}]},"mark":{"type":"text","align":"left","baseline":"middle","fontSize":8.5,"color":"#d0d0d0"},
 "encoding":{"x":{"field":"x","type":"quantitative","scale":{"domain":[-0.293,233.97],"nice":false,"zero":false,"padding":0},"axis":null},
 "y":{"field":"y","type":"quantitative","scale":{"domain":[-4.67,6.74],"nice":false,"zero":false},"axis":null},"text":{"field":"t"}}}
]},
{"width":1600,"height":81,
"layer":[
{"data":{"name":"bars"},"transform":[{"filter":"isValid(datum.sg)"}],"mark":{"type":"bar","width":2.4,"clip":true},
 "encoding":{"x":{"field":"i","type":"quantitative","scale":{"domain":[-0.293,233.97],"nice":false,"zero":false,"padding":0},"axis":null},
 "y":{"field":"sg","type":"quantitative","scale":{"domain":[-1.04,1],"nice":false,"zero":false},"axis":null},"y2":{"datum":0},
 "color":{"condition":{"test":"datum.sg >= 0","value":"#00e400"},"value":"#ee0000"}}},
{"data":{"values":[{"x":0.29,"y":0.8,"t":"Signal"}]},"mark":{"type":"text","align":"left","baseline":"middle","fontSize":8.5,"color":"#d0d0d0"},
 "encoding":{"x":{"field":"x","type":"quantitative","scale":{"domain":[-0.293,233.97],"nice":false,"zero":false,"padding":0},"axis":null},
 "y":{"field":"y","type":"quantitative","scale":{"domain":[-1.04,1],"nice":false,"zero":false},"axis":null},"text":{"field":"t"}}}
]}
]
}
